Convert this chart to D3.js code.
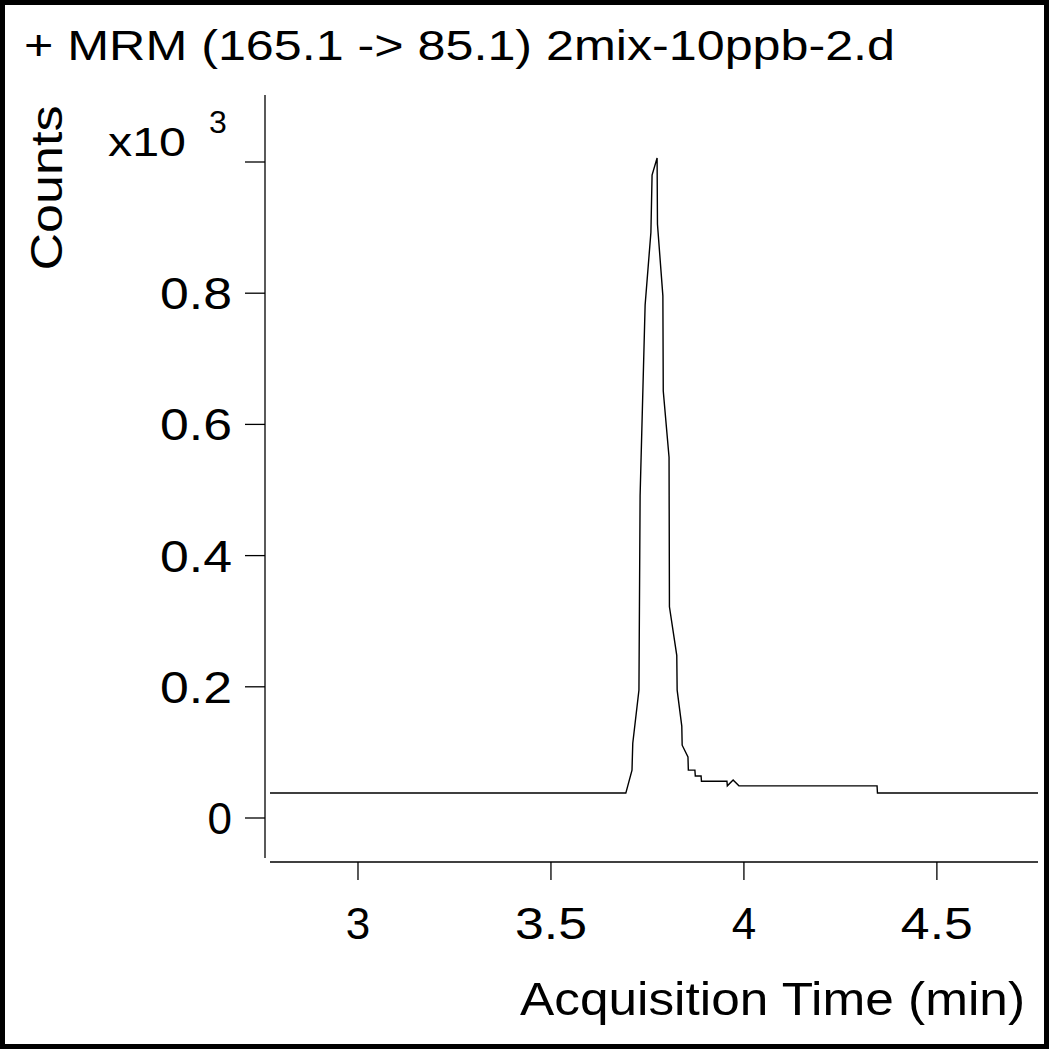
<!DOCTYPE html>
<html><head><meta charset="utf-8">
<script src="https://cdn.jsdelivr.net/npm/d3@7"></script>
<style>body{margin:0;background:#fff}svg{display:block}text{font-family:"Liberation Sans",Arial,sans-serif;fill:#000}</style>
</head><body>
<script>
// Retention times (min) and counts (x10^3).
var times = [2.772, 3.694, 3.710, 3.712, 3.728, 3.731, 3.744, 3.759, 3.762, 3.775, 3.776, 3.790, 3.791, 3.806, 3.807,
    3.826, 3.827, 3.839, 3.840, 3.855, 3.856, 3.873, 3.874, 3.889, 3.890, 3.956, 3.957, 3.972, 3.987, 4.345, 4.346, 4.762];
var counts = [0.038, 0.038, 0.073, 0.114, 0.195, 0.492, 0.782, 0.893, 0.980, 1.006, 0.905, 0.796, 0.651, 0.550, 0.322,
    0.248, 0.195, 0.140, 0.111, 0.093, 0.073, 0.073, 0.064, 0.064, 0.056, 0.056, 0.049, 0.058, 0.049, 0.049, 0.038, 0.038];
var xTicks = [3, 3.5, 4, 4.5];
var yTicks = [0, 0.2, 0.4, 0.6, 0.8, 1.0];
var yTickLabels = ["0", "0.2", "0.4", "0.6", "0.8", ""];

var W = 1049, H = 1049;
var svg = d3.select("body").append("svg").attr("width", W).attr("height", H);

// outer frame
svg.append("rect").attr("x", 2.5).attr("y", 2.5).attr("width", W - 5).attr("height", H - 5)
    .attr("fill", "none").attr("stroke", "#000").attr("stroke-width", 5);

var x = d3.scaleLinear().domain([2.772, 4.762]).range([270, 1038]);
var y = d3.scaleLinear().domain([0, 1]).range([818, 162]);

// the original text is stretched wide, so fix widths with textLength
function wide(sel, len){
    return sel.attr("textLength", len).attr("lengthAdjust", "spacingAndGlyphs");
}

wide(svg.append("text").attr("x", 24).attr("y", 60).attr("font-size", 42).text("+ MRM (165.1 -> 85.1) 2mix-10ppb-2.d"), 871);

// y axis
svg.append("line").attr("x1", 265).attr("x2", 265).attr("y1", 95).attr("y2", 858).attr("stroke", "#000").attr("stroke-width", 1.3);
yTicks.forEach(function(t, i){
    svg.append("line").attr("x1", 245).attr("x2", 265).attr("y1", y(t)).attr("y2", y(t)).attr("stroke", "#000").attr("stroke-width", 1.3);
    var lbl = svg.append("text").attr("x", 232).attr("y", y(t) + 16).attr("text-anchor", "end").attr("font-size", 44).text(yTickLabels[i]);
    if (yTickLabels[i].length === 3) wide(lbl, 72);
});
wide(svg.append("text").attr("x", 108).attr("y", 156).attr("font-size", 40).text("x10"), 78);
svg.append("text").attr("x", 209).attr("y", 133).attr("font-size", 32).text("3");
wide(svg.append("text").attr("transform", "translate(62,188) rotate(-90)").attr("text-anchor", "middle").attr("font-size", 44).text("Counts"), 165);

// x axis
svg.append("line").attr("x1", 270).attr("x2", 1038).attr("y1", 862).attr("y2", 862).attr("stroke", "#000").attr("stroke-width", 1.3);
xTicks.forEach(function(t){
    svg.append("line").attr("x1", x(t)).attr("x2", x(t)).attr("y1", 862).attr("y2", 880).attr("stroke", "#000").attr("stroke-width", 1.3);
    var lbl = svg.append("text").attr("x", x(t)).attr("y", 939).attr("text-anchor", "middle").attr("font-size", 44).text(t);
    if (String(t).length === 3) wide(lbl, 72);
});
wide(svg.append("text").attr("x", 520).attr("y", 1015).attr("font-size", 46).text("Acquisition Time (min)"), 505);

var line = d3.line().x(function(d, i){ return x(times[i]); }).y(function(d){ return y(d); });
svg.append("path").attr("d", line(counts)).attr("fill", "none").attr("stroke", "#000").attr("stroke-width", 1.4);
</script>
</body></html>
